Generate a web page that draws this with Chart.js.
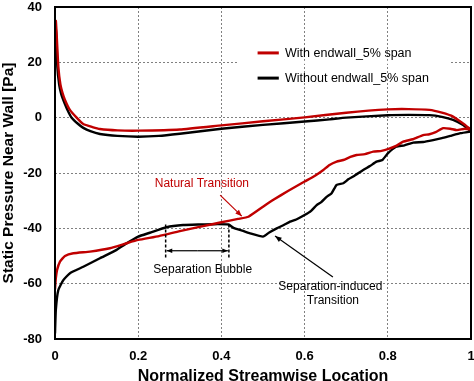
<!DOCTYPE html>
<html><head><meta charset="utf-8">
<script src="https://cdn.jsdelivr.net/npm/chart.js@4/dist/chart.umd.min.js"></script>
<style>html,body{margin:0;padding:0;background:#fff}#wrap{width:474px;height:381px}</style>
</head><body><div id="wrap"><canvas id="c" width="474" height="381"></canvas></div>
<script>
// ---------- DATA ----------
const seriesNames = ['With endwall_5% span', 'Without endwall_5% span'];

// With endwall (red) - lower branch, leading edge -> trailing edge
const redLowerX = [0, 0.002, 0.005, 0.012, 0.024, 0.044, 0.084, 0.132, 0.172, 0.2, 0.25, 0.3, 0.35, 0.4, 0.44, 0.465, 0.5, 0.525, 0.56, 0.6, 0.625, 0.645, 0.66, 0.677, 0.693, 0.71, 0.725, 0.745, 0.765, 0.785, 0.8, 0.82, 0.837, 0.86, 0.885, 0.9, 0.915, 0.933, 0.95, 0.966, 0.985, 1.0];
const redLowerY = [-62, -58, -55, -52, -50, -49, -48.4, -47.2, -45.4, -44.2, -42.8, -41, -39.4, -37.8, -36.6, -35.8, -32.2, -29.7, -26.5, -23.1, -21, -18.9, -17.1, -15.9, -15.3, -14.2, -13.5, -13.2, -12.3, -12.0, -11.4, -10.2, -8.7, -7.8, -6.3, -6.0, -5.2, -3.8, -4.0, -4.5, -4.0, -4.3];
// With endwall (red) - upper branch
const redUpperX = [0, 0.002, 0.004, 0.008, 0.013, 0.018, 0.024, 0.035, 0.052, 0.068, 0.09, 0.108, 0.15, 0.2, 0.3, 0.4, 0.5, 0.6, 0.7, 0.8, 0.85, 0.9, 0.93, 0.957, 0.98, 1.0];
const redUpperY = [33, 35, 30, 18.4, 12, 9, 6.4, 3, 0, -2.3, -3.4, -4.1, -4.6, -4.7, -4.3, -2.8, -1.3, 0.1, 1.8, 3.0, 3.1, 2.8, 1.8, 0.4, -2, -4.3];

// Without endwall (black) - lower branch
const blackLowerX = [0, 0.002, 0.008, 0.02, 0.036, 0.068, 0.108, 0.148, 0.168, 0.2, 0.228, 0.268, 0.308, 0.349, 0.38, 0.417, 0.429, 0.45, 0.469, 0.5, 0.515, 0.533, 0.55, 0.565, 0.58, 0.6, 0.615, 0.629, 0.64, 0.653, 0.665, 0.677, 0.693, 0.705, 0.72, 0.741, 0.757, 0.773, 0.787, 0.8, 0.82, 0.84, 0.861, 0.885, 0.909, 0.93, 0.95, 0.975, 1.0];
const blackLowerY = [-78, -69.5, -62.3, -58.7, -56.2, -53.9, -50.8, -47.8, -45.8, -43, -41.6, -39.6, -38.8, -38.6, -38.5, -38.6, -39.8, -40.8, -41.8, -43, -41.5, -40, -38.8, -37.6, -36.8, -35.2, -33.8, -31.6, -30.5, -28.6, -27.3, -24.3, -23.7, -22.3, -21.0, -18.9, -17.5, -15.9, -15.3, -12.9, -10.5, -10.0, -9.0, -8.8, -8.1, -7.4, -6.6, -5.6, -5.0];
// Without endwall (black) - upper branch
const blackUpperX = [0, 0.002, 0.004, 0.0056, 0.01, 0.015, 0.02, 0.03, 0.04, 0.055, 0.068, 0.085, 0.108, 0.15, 0.2, 0.25, 0.3, 0.4, 0.5, 0.6, 0.66, 0.7, 0.8, 0.85, 0.9, 0.93, 0.957, 0.98, 1.0];
const blackUpperY = [30, 32, 27, 18.4, 12, 8.5, 6.4, 2.8, 0, -2.2, -3.7, -4.9, -5.9, -6.6, -6.9, -6.6, -5.8, -4.0, -2.6, -1.4, -0.6, 0, 0.9, 1.0, 0.9, 0.3, -0.8, -2.6, -5.0];

const xTicks = [0, 0.2, 0.4, 0.6, 0.8, 1];
const yTicks = [-80, -60, -40, -20, 0, 20, 40];

// annotation texts (data coordinates)
const notes = [
  {text: 'Natural Transition', x: 0.353, y: -24.0, color: '#c00000'},
  {text: 'Separation Bubble', x: 0.355, y: -55.0, color: '#000000'},
  {text: 'Separation-induced', x: 0.662, y: -61.2, color: '#000000'},
  {text: 'Transition', x: 0.668, y: -66.3, color: '#000000'}
];
const arrows = [
  {x1: 0.397, y1: -28.0, x2: 0.449, y2: -35.6, color: '#c00000'},
  {x1: 0.668, y1: -57.6, x2: 0.529, y2: -42.8, color: '#000000'}
];
const bubble = {x0: 0.266, x1: 0.418, yTop: -38.6, yBottom: -50.8, yArrow: -48.1};

// ---------- BUILD ----------
function loop(lx, ly, ux, uy) {
  const pts = lx.map((x, i) => ({x: x, y: ly[i]}));
  for (let i = ux.length - 1; i >= 0; i--) pts.push({x: ux[i], y: uy[i]});
  return pts;
}
const RED = '#c00000';
const FONT = "'Liberation Sans', Arial, sans-serif";

function arrow(ctx, x1, y1, x2, y2, color, head) {
  ctx.strokeStyle = color; ctx.fillStyle = color; ctx.lineWidth = 1.2; ctx.setLineDash([]);
  ctx.beginPath(); ctx.moveTo(x1, y1); ctx.lineTo(x2, y2); ctx.stroke();
  const a = Math.atan2(y2 - y1, x2 - x1);
  ctx.beginPath(); ctx.moveTo(x2, y2);
  ctx.lineTo(x2 - head * Math.cos(a - 0.38), y2 - head * Math.sin(a - 0.38));
  ctx.lineTo(x2 - head * Math.cos(a + 0.38), y2 - head * Math.sin(a + 0.38));
  ctx.closePath(); ctx.fill();
}

const annoPlugin = {
  id: 'anno',
  beforeDatasetsDraw(chart) {
    const {ctx, scales: {x, y}} = chart;
    ctx.save();
    ctx.fillStyle = '#fff';
    ctx.fillRect(x.getPixelForValue(0.4375), y.getPixelForValue(20) - 1.5, x.getPixelForValue(0.95) - x.getPixelForValue(0.4375), 3);
    ctx.restore();
  },
  afterDatasetsDraw(chart) {
    const {ctx, chartArea: a, scales: {x, y}} = chart;
    ctx.save();
    ctx.strokeStyle = '#000'; ctx.lineWidth = 2; ctx.setLineDash([]);
    ctx.strokeRect(a.left, a.top, a.right - a.left, a.bottom - a.top);
    const colors = [RED, '#000'];
    const ly = [23.4, 14.3];
    ctx.font = '12.5px ' + FONT; ctx.textBaseline = 'middle'; ctx.textAlign = 'left';
    for (let i = 0; i < 2; i++) {
      const py = y.getPixelForValue(ly[i]);
      ctx.strokeStyle = colors[i]; ctx.lineWidth = 3;
      ctx.beginPath(); ctx.moveTo(x.getPixelForValue(0.487), py); ctx.lineTo(x.getPixelForValue(0.538), py); ctx.stroke();
      ctx.fillStyle = '#000';
      ctx.fillText(seriesNames[i], x.getPixelForValue(0.553), py + 0.5);
    }
    ctx.font = '12px ' + FONT; ctx.textAlign = 'center';
    notes.forEach(n => { ctx.fillStyle = n.color; ctx.fillText(n.text, x.getPixelForValue(n.x), y.getPixelForValue(n.y)); });
    arrows.forEach(r => arrow(ctx, x.getPixelForValue(r.x1), y.getPixelForValue(r.y1), x.getPixelForValue(r.x2), y.getPixelForValue(r.y2), r.color, 7));
    const bx0 = x.getPixelForValue(bubble.x0), bx1 = x.getPixelForValue(bubble.x1);
    const byT = y.getPixelForValue(bubble.yTop), byB = y.getPixelForValue(bubble.yBottom), byA = y.getPixelForValue(bubble.yArrow);
    ctx.strokeStyle = '#000'; ctx.lineWidth = 1.5; ctx.setLineDash([3, 2]);
    ctx.beginPath(); ctx.moveTo(bx0, byT); ctx.lineTo(bx0, byB); ctx.moveTo(bx1, byT); ctx.lineTo(bx1, byB); ctx.stroke();
    ctx.setLineDash([]);
    arrow(ctx, (bx0 + bx1) / 2, byA, bx0 + 1, byA, '#000', 6);
    arrow(ctx, (bx0 + bx1) / 2, byA, bx1 - 1, byA, '#000', 6);
    ctx.restore();
  }
};

const fmt = v => String(Math.round(v * 10) / 10);

new Chart(document.getElementById('c').getContext('2d'), {
  type: 'scatter',
  data: {
    datasets: [
      {label: seriesNames[0], data: loop(redLowerX, redLowerY, redUpperX, redUpperY), showLine: true, borderColor: RED, backgroundColor: RED, borderWidth: 2.4, pointRadius: 0, tension: 0.15, fill: false},
      {label: seriesNames[1], data: loop(blackLowerX, blackLowerY, blackUpperX, blackUpperY), showLine: true, borderColor: '#000', backgroundColor: '#000', borderWidth: 2.4, pointRadius: 0, tension: 0.15, fill: false}
    ]
  },
  options: {
    responsive: false, animation: false, devicePixelRatio: 1,
    layout: {padding: {top: 7, right: 3, left: 0, bottom: 0}, autoPadding: false},
    plugins: {legend: {display: false}, tooltip: {enabled: false}},
    scales: {
      x: {
        type: 'linear', min: 0, max: 1,
        afterBuildTicks: s => { s.ticks = xTicks.map(v => ({value: v})); },
        afterFit: s => { s.height = 42; s.paddingLeft = 0; s.paddingRight = 0; },
        ticks: {padding: 10, color: '#000', font: {family: FONT, size: 13, weight: 'bold'}, callback: fmt, maxRotation: 0},
        grid: {color: '#808080', lineWidth: 1, drawTicks: false, borderDash: [2, 2]},
        border: {display: false, dash: [2, 2]},
        title: {display: true, text: 'Normalized Streamwise Location', color: '#000', padding: 0, font: {family: FONT, size: 16, weight: 'bold', lineHeight: 0.5}}
      },
      y: {
        type: 'linear', min: -80, max: 40,
        afterBuildTicks: s => { s.ticks = yTicks.map(v => ({value: v})); },
        afterFit: s => { s.width = 55; s.paddingTop = 0; s.paddingBottom = 0; },
        ticks: {padding: 13, color: '#000', font: {family: FONT, size: 13, weight: 'bold'}, callback: fmt},
        grid: {color: '#808080', lineWidth: 1, drawTicks: false, borderDash: [2, 2]},
        border: {display: false, dash: [2, 2]},
        title: {display: true, text: 'Static Pressure Near Wall [Pa]', color: '#000', padding: 0, font: {family: FONT, size: 15.5, weight: 'bold', lineHeight: 1.1}}
      }
    }
  },
  plugins: [annoPlugin]
});
</script></body></html>
